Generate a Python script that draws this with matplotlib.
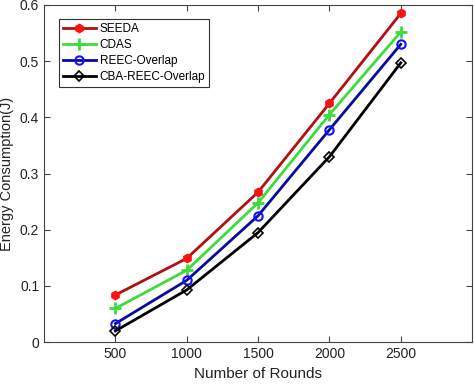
import matplotlib.pyplot as plt

rounds = [500, 1000, 1500, 2000, 2500]
seeda = [0.084, 0.149, 0.267, 0.425, 0.585]
cdas = [0.060, 0.128, 0.248, 0.405, 0.552]
reec = [0.033, 0.110, 0.225, 0.378, 0.530]
cba_reec = [0.020, 0.093, 0.195, 0.330, 0.497]

plt.rcParams['font.family'] = ['Liberation Sans', 'DejaVu Sans']

fig = plt.figure(figsize=(4.74, 3.84), dpi=100)
ax = fig.add_axes([0.093, 0.109, 0.903, 0.878])

ax.plot(rounds, seeda, color='#b01010', lw=2, marker='h', ms=6,
        mfc='#ff1010', mec='#ff1010', label='SEEDA')
ax.plot(rounds, cdas, color='#3cdc3c', lw=2, marker='+', ms=8, mew=2,
        mec='#3cdc3c', label='CDAS')
ax.plot(rounds, reec, color='#0a0a9a', lw=2, marker='o', ms=6,
        mfc='none', mec='#1010ff', mew=1.5, label='REEC-Overlap')
ax.plot(rounds, cba_reec, color='black', lw=2, marker='D', ms=5,
        mfc='none', mec='black', mew=1.2, label='CBA-REEC-Overlap')

ax.set_xlim(0, 3000)
ax.set_ylim(0, 0.6)
ax.set_xticks(rounds)
ax.set_yticks([0, 0.1, 0.2, 0.3, 0.4, 0.5, 0.6])
ax.set_yticklabels(['0', '0.1', '0.2', '0.3', '0.4', '0.5', '0.6'])
ax.tick_params(direction='in', top=True, right=True, labelsize=10, length=4,
               color='#444444', labelcolor='#222222')
for s in ax.spines.values():
    s.set_color('#444444')

ax.set_xlabel('Number of Rounds', fontsize=11, color='#222222')
ax.set_ylabel('Energy Consumption(J)', fontsize=10.5, color='#222222')

leg = ax.legend(loc='upper left', bbox_to_anchor=(0.022, 0.975), fontsize=8.5,
                fancybox=False, edgecolor='#333333', framealpha=1,
                handlelength=2.8, borderpad=0.3, labelspacing=0.35,
                handletextpad=0.3)
leg.get_frame().set_linewidth(0.8)

plt.savefig('out.png', dpi=100)
